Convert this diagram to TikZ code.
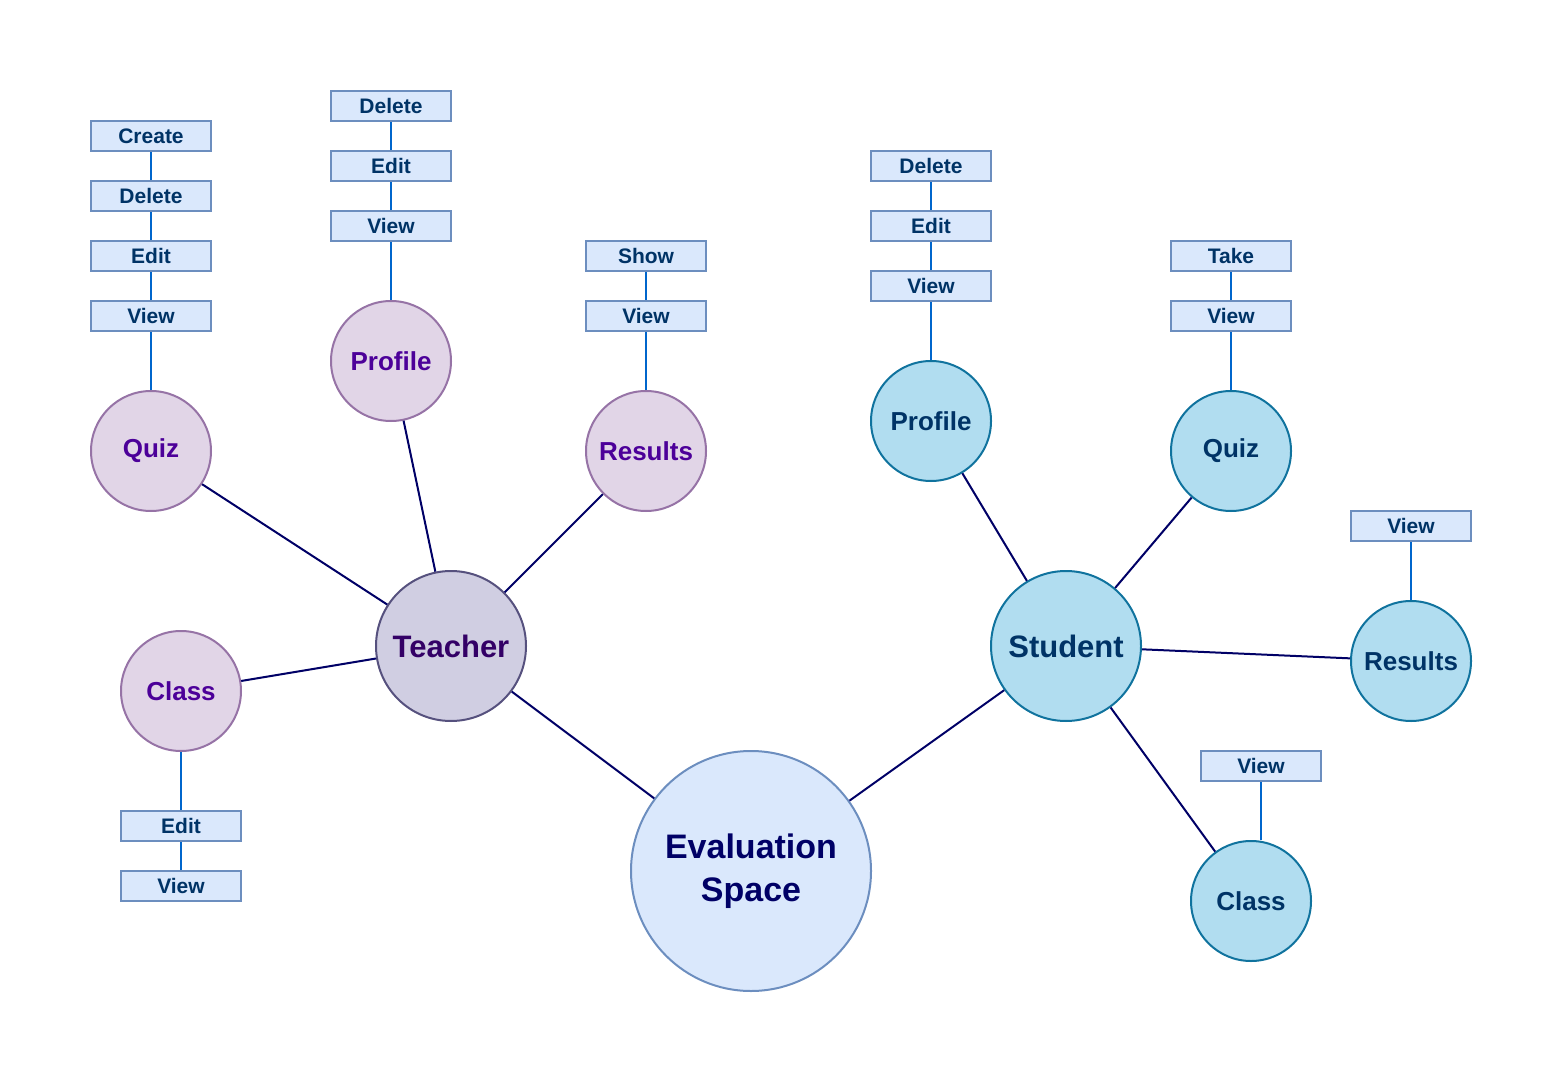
\documentclass[tikz,border=0pt]{standalone}
\usepackage{fontspec}
\setmainfont{Liberation Sans}
\begin{document}
\definecolor{evf}{HTML}{DAE8FC}\definecolor{evs}{HTML}{6C8EBF}
\definecolor{tf}{HTML}{D0CEE2}\definecolor{ts}{HTML}{56517E}\definecolor{tt}{HTML}{330066}
\definecolor{pf}{HTML}{E1D5E7}\definecolor{ps}{HTML}{9673A6}\definecolor{pt}{HTML}{4C0099}
\definecolor{sf}{HTML}{B1DDF0}\definecolor{ss}{HTML}{10739E}\definecolor{st}{HTML}{003366}
\definecolor{edge}{HTML}{000066}\definecolor{bl}{HTML}{0066CC}
\begin{tikzpicture}[x=1pt,y=-1pt,
 circ/.style={circle,draw,line width=2pt,inner sep=0pt,font=\bfseries},
 big/.style={circ,minimum size=150pt,fill=#1f,draw=#1s,text=#1t,font=\fontsize{31}{34}\bfseries},
 small/.style={circ,minimum size=120pt,fill=#1f,draw=#1s,text=#1t,font=\fontsize{26}{28}\bfseries},
 box/.style={draw=evs,fill=evf,line width=2pt,minimum width=120pt,minimum height=30pt,inner sep=0pt,text=st,font=\fontsize{21}{22}\bfseries},
 e/.style={draw=edge,line width=2pt},
 b/.style={draw=bl,line width=2pt}]
\useasboundingbox (0,0) rectangle (1563,1083);
\node[circ,minimum size=240pt,fill=evf,draw=evs,text=edge,align=center,font=\fontsize{34}{43}\bfseries] (ev) at (751,871) {Evaluation\\Space};
\node[big=t] (te) at (451,646) {Teacher};
\node[big=s,text=st] (stu) at (1066,646) {Student};
\node[small=p] (tq) at (151,451) {Quiz};
\node[small=p] (tp) at (391,361) {Profile};
\node[small=p] (tr) at (646,451) {Results};
\node[small=p] (tc) at (181,691) {Class};
\node[small=s] (sp) at (931,421) {Profile};
\node[small=s] (sq) at (1231,451) {Quiz};
\node[small=s] (sr) at (1411,661) {Results};
\node[small=s] (sc) at (1251,901) {Class};
\draw[e] (te)--(ev); \draw[e] (stu)--(ev);
\draw[e] (te)--(tq); \draw[e] (te)--(tp); \draw[e] (te)--(tr); \draw[e] (te)--(tc);
\draw[e] (stu)--(sp); \draw[e] (stu)--(sq); \draw[e] (stu)--(sr); \draw[e] (stu)--(sc);
% teacher quiz
\node[box] (tq1) at (151,316) {View};\node[box] (tq2) at (151,256) {Edit};
\node[box] (tq3) at (151,196) {Delete};\node[box] (tq4) at (151,136) {Create};
\draw[b] (tq)--(tq1) (tq1)--(tq2) (tq2)--(tq3) (tq3)--(tq4);
\node[box] (tp1) at (391,226) {View};\node[box] (tp2) at (391,166) {Edit};\node[box] (tp3) at (391,106) {Delete};
\draw[b] (tp)--(tp1) (tp1)--(tp2) (tp2)--(tp3);
\node[box] (tr1) at (646,316) {View};\node[box] (tr2) at (646,256) {Show};
\draw[b] (tr)--(tr1) (tr1)--(tr2);
\node[box] (tc1) at (181,826) {Edit};\node[box] (tc2) at (181,886) {View};
\draw[b] (tc)--(tc1) (tc1)--(tc2);
\node[box] (sp1) at (931,286) {View};\node[box] (sp2) at (931,226) {Edit};\node[box] (sp3) at (931,166) {Delete};
\draw[b] (sp)--(sp1) (sp1)--(sp2) (sp2)--(sp3);
\node[box] (sq1) at (1231,316) {View};\node[box] (sq2) at (1231,256) {Take};
\draw[b] (sq)--(sq1) (sq1)--(sq2);
\node[box] (sr1) at (1411,526) {View};\draw[b] (sr)--(sr1);
\node[box] (sc1) at (1261,766) {View};\draw[b] (sc.north)++(10,0) coordinate (scn);
\draw[b] (sc1)--(sc1|-sc.north);
\end{tikzpicture}
\end{document}
